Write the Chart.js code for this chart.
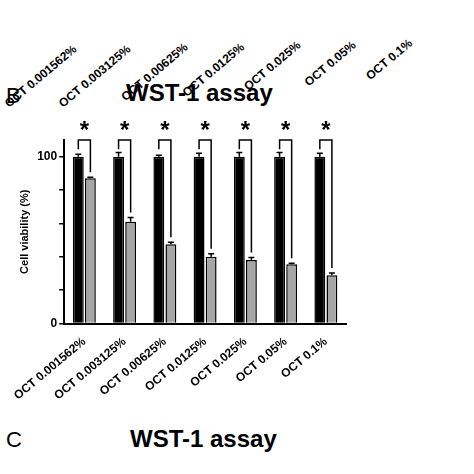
<!DOCTYPE html>
<html><head><meta charset="utf-8">
<script src="https://cdn.jsdelivr.net/npm/chart.js@4"></script>
<style>
body{margin:0;width:474px;height:474px;background:#fff;overflow:hidden;font-family:Arial,"Liberation Sans",sans-serif;position:relative}
.t{position:absolute;font-weight:bold;color:#000;white-space:nowrap}
#wrap{position:absolute;left:0;top:110px;width:360px;height:296px}
.top{position:absolute;font-size:12px;font-weight:bold;transform:rotate(-40deg);transform-origin:right top;white-space:nowrap}
</style></head><body>
<div class="top" style="right:404px;top:42px">OCT 0.001562%</div>
<div class="top" style="right:350px;top:42px">OCT 0.003125%</div>
<div class="top" style="right:292px;top:40px">OCT 0.00625%</div>
<div class="top" style="right:236px;top:40px">OCT 0.0125%</div>
<div class="top" style="right:180px;top:38px">OCT 0.025%</div>
<div class="top" style="right:124px;top:38px">OCT 0.05%</div>
<div class="top" style="right:68px;top:36px">OCT 0.1%</div>
<div class="t" style="left:6px;top:83px;font-size:22px;font-weight:normal">B</div>
<div class="t" style="left:126px;top:79px;font-size:24px">WST-1 assay</div>
<div class="t" style="left:6px;top:427px;font-size:22px;font-weight:normal">C</div>
<div class="t" style="left:130px;top:425px;font-size:24px">WST-1 assay</div>
<div id="wrap"><canvas id="c"></canvas></div>
<script>
const labels = ["OCT 0.001562%", "OCT 0.003125%", "OCT 0.00625%", "OCT 0.0125%", "OCT 0.025%", "OCT 0.05%", "OCT 0.1%"];
const control = [100, 100, 100, 100, 100, 100, 100];
const controlErr = [1.5, 2.5, 0.8, 2, 2.5, 2.5, 2];
const treated = [87, 61, 47.5, 40, 38, 35.5, 29];
const treatedErr = [0.6, 2.5, 1.2, 1.8, 1.5, 0.6, 1.3];
const errs = [controlErr, treatedErr];

const extras = {
  id: "extras",
  afterDatasetsDraw(chart) {
    const ctx = chart.ctx, y = chart.scales.y;
    ctx.save();
    ctx.strokeStyle = "#000"; ctx.lineWidth = 1.5;
    chart.data.datasets.forEach((ds, i) => {
      chart.getDatasetMeta(i).data.forEach((bar, j) => {
        const top = y.getPixelForValue(ds.data[j] + errs[i][j]);
        ctx.beginPath();
        ctx.moveTo(bar.x, bar.y); ctx.lineTo(bar.x, top);
        ctx.moveTo(bar.x - 3, top); ctx.lineTo(bar.x + 3, top);
        ctx.stroke();
      });
    });
    const m0 = chart.getDatasetMeta(0).data, m1 = chart.getDatasetMeta(1).data;
    ctx.fillStyle = "#000";
    ctx.font = "bold 24px Arial";
    ctx.textAlign = "center";
    m0.forEach((b, j) => {
      const yb = y.getPixelForValue(110);
      const g = m1[j];
      ctx.beginPath();
      ctx.moveTo(b.x, y.getPixelForValue(104.5));
      ctx.lineTo(b.x, yb); ctx.lineTo(g.x, yb);
      ctx.lineTo(g.x, y.getPixelForValue(treated[j] + treatedErr[j] + 3));
      ctx.stroke();
      ctx.fillText("*", (b.x + g.x) / 2, yb - 2);
    });
    ctx.restore();
  }
};

new Chart(document.getElementById("c"), {
  type: "bar",
  data: {
    labels: labels,
    datasets: [
      { data: control, backgroundColor: "#000", borderColor: "#000", borderWidth: 1.5 },
      { data: treated, backgroundColor: "#a6a6a6", borderColor: "#000", borderWidth: 1.5 }
    ]
  },
  options: {
    animation: false, responsive: true, maintainAspectRatio: false,
    layout: { padding: { top: 30, right: 14, left: 14 } },
    categoryPercentage: 0.6, barPercentage: 0.9,
    plugins: { legend: { display: false }, tooltip: { enabled: false } },
    scales: {
      x: {
        grid: { display: false, drawTicks: true },
        border: { color: "#000", width: 2 },
        ticks: { color: "#000", minRotation: 40, maxRotation: 40, font: { size: 12, weight: "bold", family: "Arial" } }
      },
      y: {
        min: 0, max: 110,
        afterBuildTicks: ax => { ax.ticks = []; for (let v = 0; v <= 110; v += 10) ax.ticks.push({ value: v }); },
        ticks: { color: "#000", callback: v => (v % 50 === 0 ? v : ""), font: { size: 12, weight: "bold", family: "Arial" }, padding: 2 },
        grid: { drawOnChartArea: false, tickLength: 5, color: "#000", lineWidth: 1.5 },
        border: { color: "#000", width: 2 },
        title: { display: true, text: "Cell viability (%)", color: "#000", font: { size: 11, weight: "bold", family: "Arial" } }
      }
    }
  },
  plugins: [extras]
});
</script>
</body></html>
